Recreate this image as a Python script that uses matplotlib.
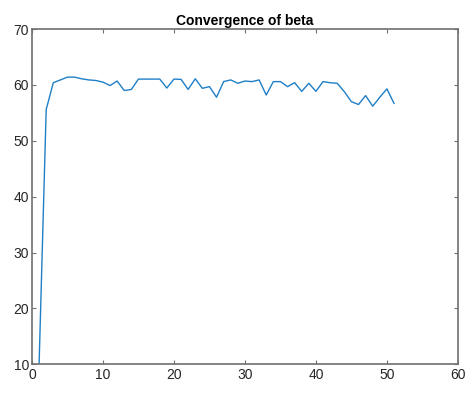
import matplotlib
matplotlib.use('Agg')
import matplotlib.pyplot as plt

plt.rcParams['font.family'] = ['Liberation Sans', 'DejaVu Sans']

iterations = list(range(1, 52))
beta = [10.0, 55.6, 60.4, 60.9, 61.4, 61.4, 61.1, 60.9, 60.8, 60.5,
        59.9, 60.7, 59.0, 59.2, 61.05, 61.05, 61.05, 61.05, 59.45, 61.05,
        61.0, 59.2, 61.1, 59.4, 59.7, 57.8, 60.6, 60.9, 60.3, 60.7,
        60.6, 60.9, 58.2, 60.6, 60.6, 59.7, 60.4, 58.85, 60.3, 58.85,
        60.6, 60.4, 60.3, 58.8, 57.0, 56.5, 58.1, 56.2, 57.8, 59.3,
        56.7]

fig = plt.figure(figsize=(4.74, 3.93), dpi=100)
ax = fig.add_axes([0.0675, 0.073, 0.8985, 0.853])
ax.plot(iterations, beta, color='#1f7fc6', linewidth=1.0)
ax.set_xlim(0, 60)
ax.set_ylim(10, 70)
ax.set_xticks(range(0, 61, 10))
ax.set_yticks(range(10, 71, 10))
ax.set_title('Convergence of beta', fontsize=10, fontweight='bold', pad=3)
ax.tick_params(direction='in', top=True, right=True, labelsize=10,
               colors='#262626', length=3, pad=3)
ax.tick_params(axis='y', pad=2)
for s in ax.spines.values():
    s.set_color('#707070')
    s.set_linewidth(1.2)
ax.tick_params(color='#707070')

fig.savefig('out.png', dpi=100)
